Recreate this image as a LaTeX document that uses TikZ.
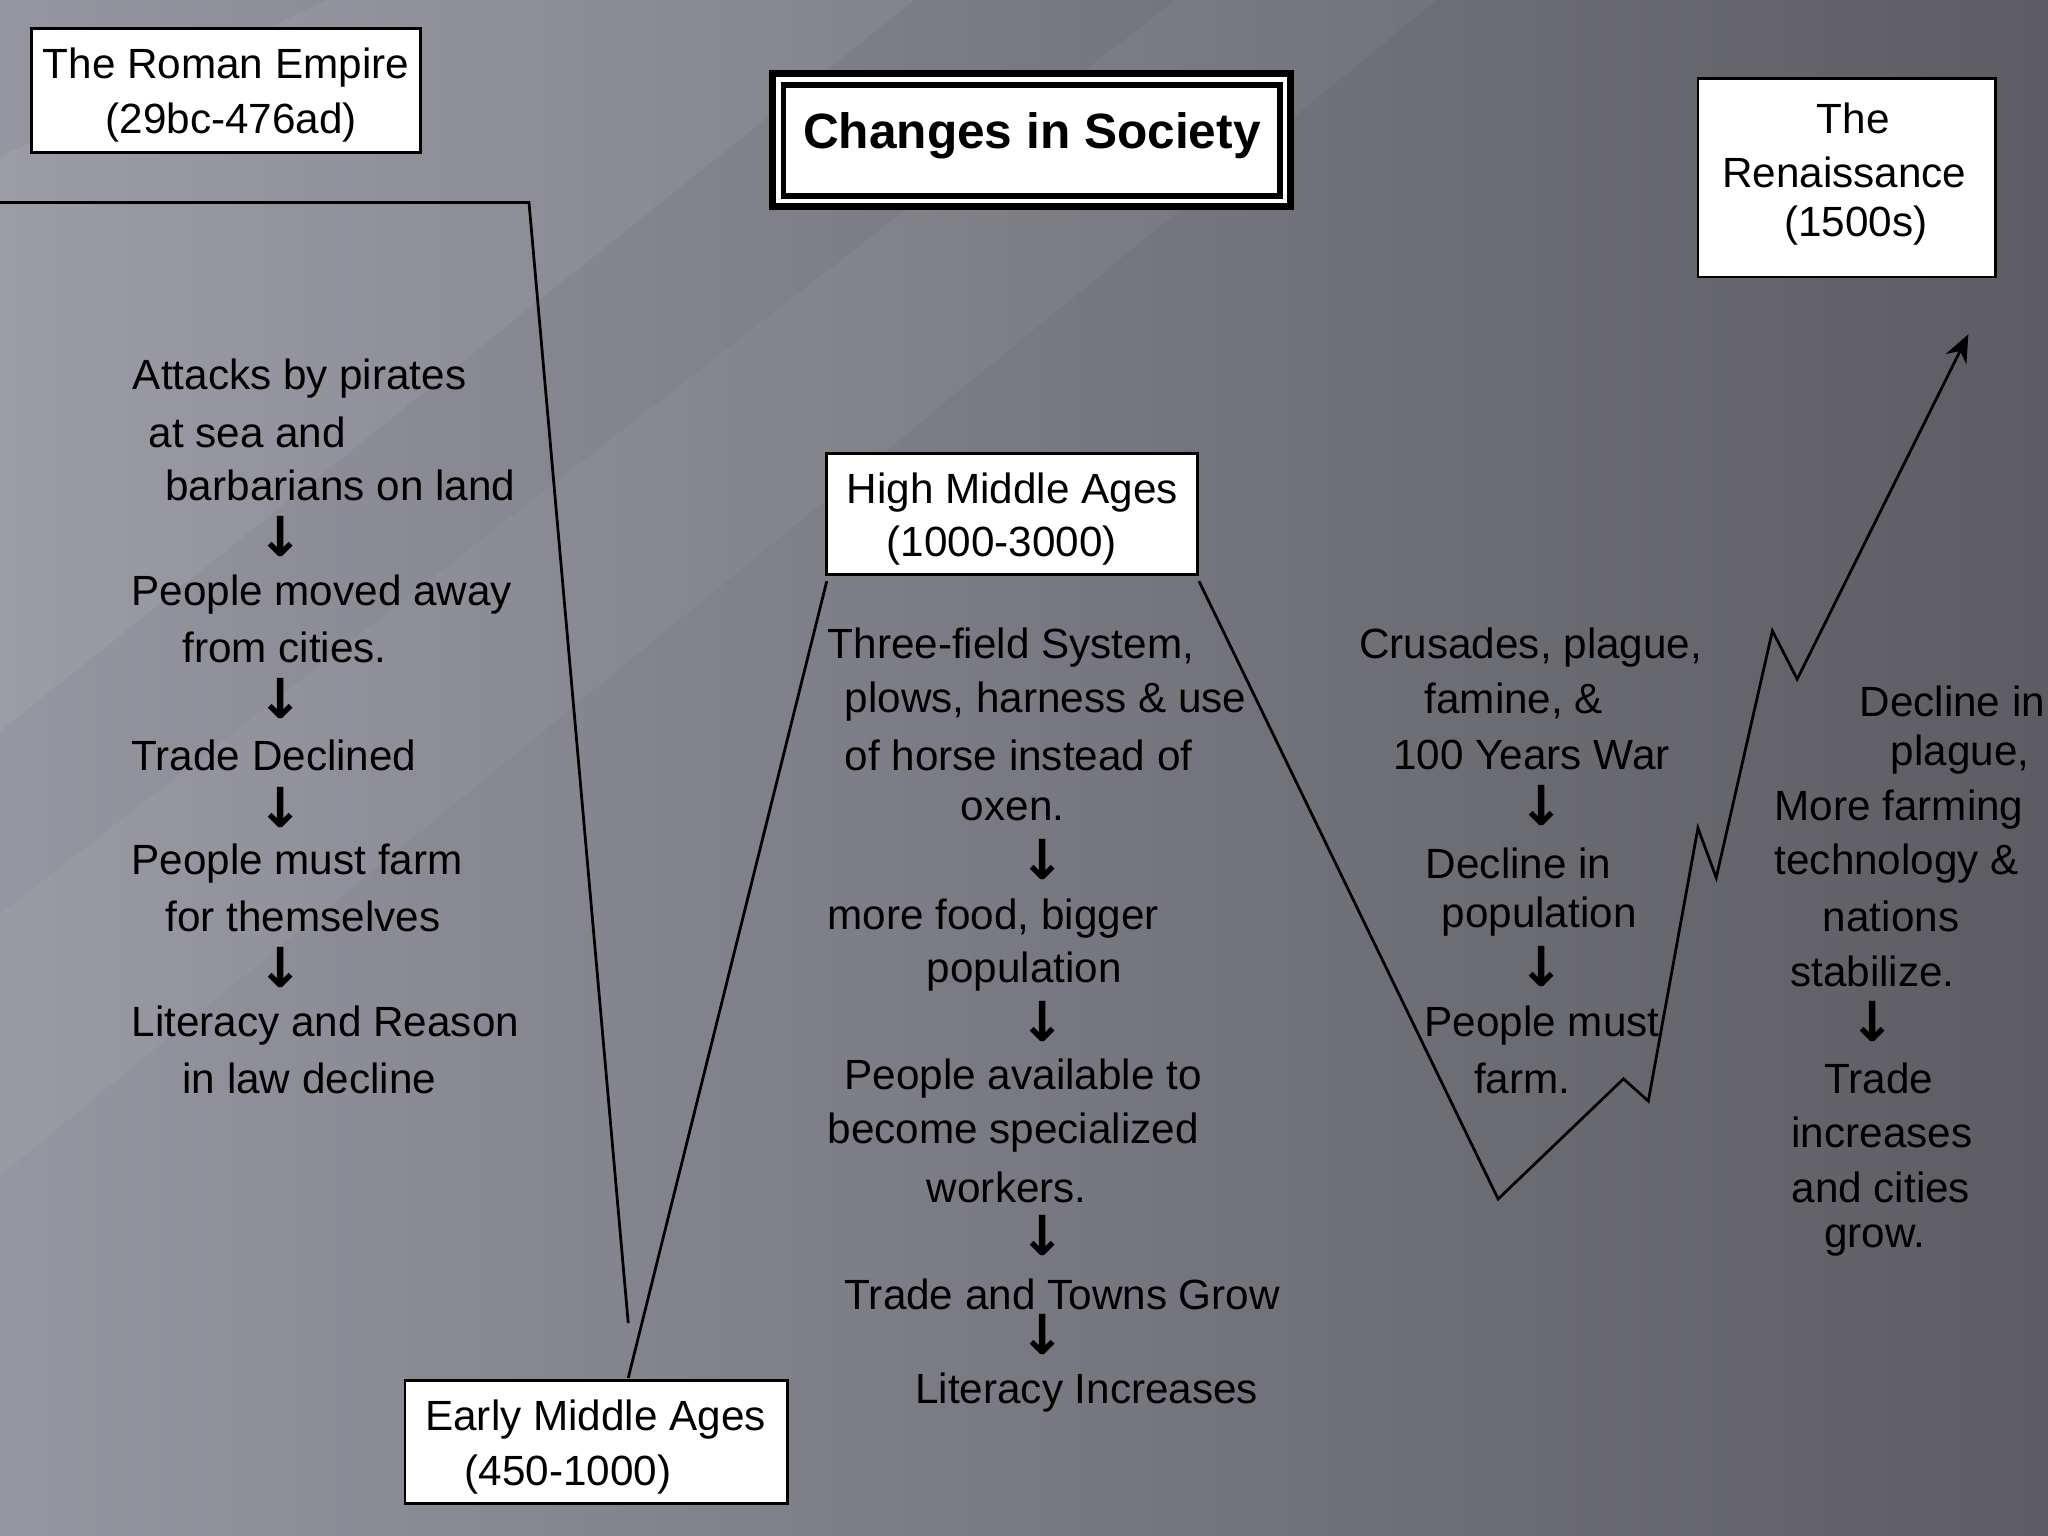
\documentclass[tikz,border=0pt]{standalone}
\usepackage{fontspec}
\setmainfont{Liberation Sans}
\newfontfamily\arrfont{DejaVu Sans}
\usetikzlibrary{arrows.meta}
\definecolor{bgL}{RGB}{150,150,160}
\definecolor{bgR}{RGB}{92,92,98}
\tikzset{
  t/.style={anchor=west,font=\fontsize{9.2}{11}\selectfont,inner sep=0pt,text=black},
  ar/.style={font=\arrfont\bfseries\fontsize{12}{12}\selectfont,inner sep=0pt},
  bx/.style={draw=black,fill=white,line width=0.6pt},
  bt/.style={font=\fontsize{9.2}{11}\selectfont,inner sep=0pt},
  ln/.style={line width=0.6pt,black}
}
\newcommand{\dn}{\textbf{↓}}
\begin{document}
\begin{tikzpicture}[x=0.01cm,y=-0.01cm]
\useasboundingbox (0,0) rectangle (1568,1176);
\shade[left color=bgL,right color=bgR] (0,0) rectangle (1568,1176);
\fill[white,opacity=0.06] (0,120) -- (250,0) -- (700,0) -- (0,560) -- cycle;
\fill[white,opacity=0.04] (0,700) -- (900,0) -- (1100,0) -- (0,900) -- cycle;
% boxes
\draw[bx] (24,22) rectangle (322,117);
\node[bt] (rom) at (173,52) {The Roman Empire};
\node[bt] (rom2) at (177,94) {(29bc-476ad)};
\draw[black,fill=black,line width=0.6pt] (590,55) rectangle (990,160);
\draw[white,fill=white] (595,60) rectangle (985,155);
\draw[black,line width=1.2pt] (600,65) rectangle (980,150);
\node[bt,font=\bfseries\fontsize{10.8}{13}\selectfont] (title) at (790,104) {Changes in Society};
\draw[bx] (1300,60) rectangle (1528,212);
\node[bt] (r1) at (1419,91) {The};
\node[bt] (r2) at (1412,132) {Renaissance};
\node[bt] (r3) at (1421,173) {(1500s)};
\draw[bx] (633,347) rectangle (917,440);
\node[bt] (h1) at (775,377) {High Middle Ages};
\node[bt] (h2) at (767,418) {(1000-3000)};
\draw[bx] (310,1057) rectangle (603,1151);
\node[bt] (e1) at (456,1087) {Early Middle Ages};
\node[bt] (e2) at (435,1129) {(450-1000)};
% lines
\draw[ln] (0,155) -- (405,155) -- (481,1013);
\draw[ln] (481,1055) -- (633,445);
\draw[ln,-{Stealth[length=6pt,width=5pt]}] (918,445) -- (1147,918) -- (1243,826) -- (1262,843) -- (1300,634) -- (1314,672) -- (1357,483) -- (1376,520) -- (1507,256);
% left column
\node[t] at (101,290) {Attacks by pirates};
\node[t] at (113,331) {at sea and};
\node[t] at (126,372) {barbarians on land};
\node[ar] at (215,411) {\dn};
\node[t] at (100,455) {People moved away};
\node[t] at (139,496) {from cities.};
\node[ar] at (215,535) {\dn};
\node[t] at (100,578) {Trade Declined};
\node[ar] at (215,618) {\dn};
\node[t] at (100,661) {People must farm};
\node[t] at (126,702) {for themselves};
\node[ar] at (215,741) {\dn};
\node[t] at (100,785) {Literacy and Reason};
\node[t] at (139,826) {in law decline};
% middle column
\node[t] at (633,496) {Three-field System,};
\node[t] at (646,537) {plows, harness \& use};
\node[t] at (646,578) {of horse instead of};
\node[t] at (735,620) {oxen.};
\node[ar] at (798,658) {\dn};
\node[t] at (633,703) {more food, bigger};
\node[t] at (709,744) {population};
\node[ar] at (798,782) {\dn};
\node[t] at (646,826) {People available to};
\node[t] at (633,867) {become specialized};
\node[t] at (709,909) {workers.};
\node[ar] at (798,946) {\dn};
\node[t] at (646,991) {Trade and Towns Grow};
\node[ar] at (798,1022) {\dn};
\node[t] at (700,1066) {Literacy Increases};
% third column
\node[t] at (1040,496) {Crusades, plague,};
\node[t] at (1090,537) {famine, \&};
\node[t] at (1066,578) {100 Years War};
\node[ar] at (1180,617) {\dn};
\node[t] at (1091,661) {Decline in};
\node[t] at (1103,702) {population};
\node[ar] at (1180,740) {\dn};
\node[t] at (1090,785) {People must};
\node[t] at (1128,826) {farm.};
% fourth column
\node[t] at (1423,537) {Decline in};
\node[t] at (1447,578) {plague,};
\node[t] at (1358,620) {More farming};
\node[t] at (1358,661) {technology \&};
\node[t] at (1395,702) {nations};
\node[t] at (1370,744) {stabilize.};
\node[ar] at (1434,782) {\dn};
\node[t] at (1396,826) {Trade};
\node[t] at (1371,867) {increases};
\node[t] at (1371,909) {and cities};
\node[t] at (1396,950) {grow.};
\end{tikzpicture}
\end{document}
